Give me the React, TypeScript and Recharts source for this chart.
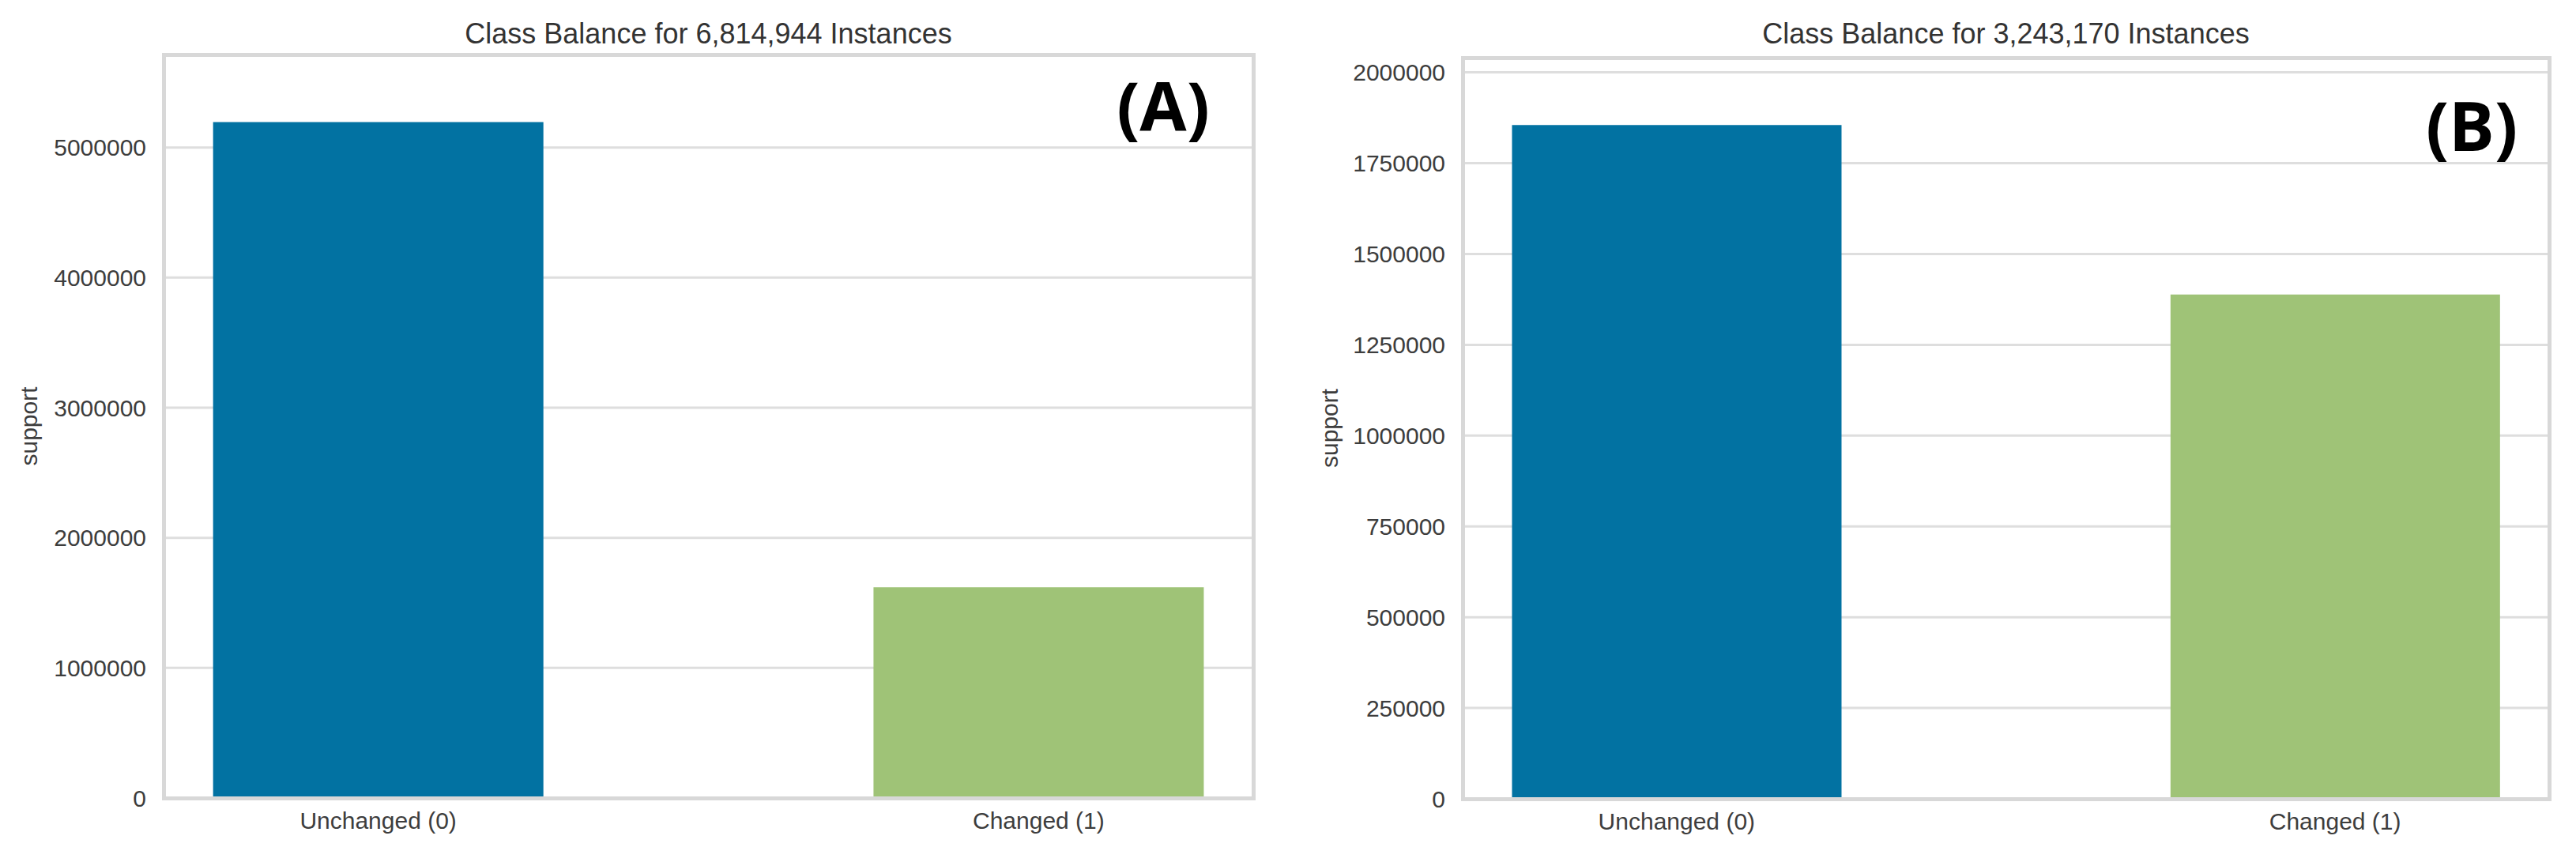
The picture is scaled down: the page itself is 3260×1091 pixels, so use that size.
import { Bar, BarChart, CartesianGrid, Cell, XAxis, YAxis } from "recharts";

const categories = ["Unchanged (0)", "Changed (1)"];
const supportA = [5194944, 1620000];
const supportB = [1855000, 1388170];
const ticksA = [0, 1000000, 2000000, 3000000, 4000000, 5000000];
const ticksB = [0, 250000, 500000, 750000, 1000000, 1250000, 1500000, 1750000, 2000000];
const titleA = "Class Balance for 6,814,944 Instances";
const titleB = "Class Balance for 3,243,170 Instances";
const barColors = ["#0272a2", "#9fc377"];

const font = "'Liberation Sans', Arial, sans-serif";
const textColor = "#3d3d3d";

function Panel({
  offsetX,
  width,
  plotLeft,
  plotTop,
  plotRight,
  plotBottom,
  values,
  ticks,
  title,
  tag,
  tagX,
  tagY,
  supportX,
}: {
  offsetX: number;
  width: number;
  plotLeft: number;
  plotTop: number;
  plotRight: number;
  plotBottom: number;
  values: number[];
  ticks: number[];
  title: string;
  tag: string;
  tagX: number;
  tagY: number;
  supportX: number;
}) {
  const height = 1091;
  const data = categories.map((name, i) => ({ name, support: values[i] }));
  const plotWidth = width - plotLeft - plotRight;
  // matplotlib-like margins: bars of width 0.5 at 0 and 1, xlim -0.325..1.325
  const pad = -plotWidth * (2 / 1.65 - 1) / 2;

  return (
    <div style={{ position: "absolute", left: offsetX, top: 0, width, height }}>
      <BarChart
        width={width}
        height={height}
        data={data}
        margin={{ top: plotTop, right: plotRight, bottom: 0, left: 0 }}
        barCategoryGap="25%"
      >
        <CartesianGrid stroke="#dedede" strokeWidth={3} vertical={false} />
        <XAxis
          dataKey="name"
          height={height - plotBottom}
          padding={{ left: pad, right: pad }}
          axisLine={false}
          tickLine={false}
          tickSize={0}
          tickMargin={18}
          interval={0}
          tick={{ fill: textColor, fontSize: 30, fontFamily: font }}
        />
        <YAxis
          width={plotLeft}
          ticks={ticks}
          domain={[0, (dataMax: number) => dataMax * 1.1]}
          interval={0}
          axisLine={false}
          tickLine={false}
          tickSize={0}
          tickMargin={22}
          tick={{ fill: textColor, fontSize: 30, fontFamily: font }}
          label={{
            content: ({ viewBox }: any) => {
              const cy = viewBox.y + viewBox.height / 2;
              return (
                <text
                  x={supportX}
                  y={cy}
                  transform={`rotate(-90, ${supportX}, ${cy})`}
                  textAnchor="middle"
                  dominantBaseline="central"
                  fill={textColor}
                  fontSize={30}
                  fontFamily={font}
                >
                  support
                </text>
              );
            },
          }}
        />
        <Bar dataKey="support" isAnimationActive={false}>
          {data.map((d, i) => (
            <Cell key={d.name} fill={barColors[i]} />
          ))}
        </Bar>
      </BarChart>
      <div
        style={{
          position: "absolute",
          left: plotLeft - 2.5,
          top: plotTop - 2.5,
          width: plotWidth + 5,
          height: plotBottom - plotTop + 5,
          boxSizing: "border-box",
          border: "5px solid #d8d8d8",
          pointerEvents: "none",
        }}
      />
      <div
        style={{
          position: "absolute",
          left: plotLeft,
          width: plotWidth,
          top: 43,
          transform: "translateY(-50%)",
          textAlign: "center",
          fontFamily: font,
          fontSize: 36,
          color: "#333",
          whiteSpace: "nowrap",
        }}
      >
        {title}
      </div>
      <div
        style={{
          position: "absolute",
          left: tagX,
          top: tagY,
          transform: "translate(-50%, -50%)",
          fontFamily: "'Open Sans', sans-serif",
          fontWeight: 700,
          fontSize: 86,
          color: "#000",
          lineHeight: 1,
        }}
      >
        {tag}
      </div>
    </div>
  );
}

export default function App() {
  return (
    <div
      style={{
        position: "fixed",
        left: 0,
        top: 0,
        width: 3260,
        height: 1091,
        background: "#fff",
        overflow: "hidden",
      }}
    >
      <Panel
        offsetX={0}
        width={1620}
        plotLeft={207}
        plotTop={69}
        plotRight={34}
        plotBottom={1010}
        values={supportA}
        ticks={ticksA}
        title={titleA}
        tag="(A)"
        tagX={1472}
        tagY={133}
        supportX={36}
      />
      <Panel
        offsetX={1620}
        width={1640}
        plotLeft={231}
        plotTop={73}
        plotRight={34}
        plotBottom={1011}
        values={supportB}
        ticks={ticksB}
        title={titleB}
        tag="(B)"
        tagX={1508}
        tagY={158}
        supportX={62}
      />
    </div>
  );
}
